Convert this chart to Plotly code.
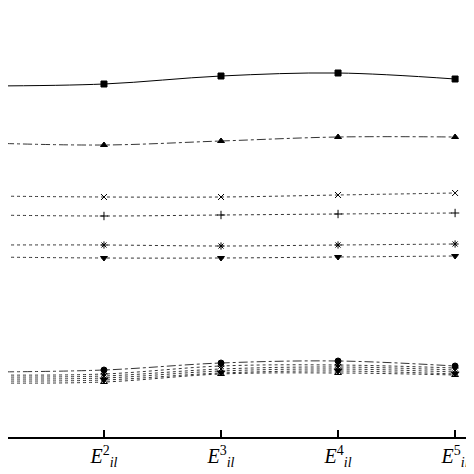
import plotly.graph_objs as go

x_pos = [1, 2, 3, 4, 5]
tick_vals = [2, 3, 4, 5]
tick_text = ["<i>E</i><sup>%d</sup><sub><i>il</i></sub>" % n for n in tick_vals]

# values (arbitrary units, larger = higher)
s_square = [359, 361, 369, 372, 366]
s_tri_up = [302, 300, 304, 308, 308]
s_x = [249, 248, 248, 250, 252]
s_plus = [230, 229, 230, 231, 232]
s_star = [200, 200, 199, 200, 201]
s_tri_down = [188, 187, 187, 188, 189]
b_circle = [73, 75, 82, 84, 79]
b_star = [70, 71, 79, 80, 77]
b_x = [68, 69, 76, 78, 75]
b_a = [66, 67, 74, 76, 73]
b_b = [64, 65, 72, 74, 71]
b_tri = [62, 63, 71, 72, 70]

series = [
    (s_square, "square", "solid", 1.0),
    (s_tri_up, "triangle-up", "dashdot", 0.8),
    (s_x, "x-thin-open", "dot", 0.8),
    (s_plus, "cross-thin-open", "dot", 0.8),
    (s_star, "asterisk-open", "dot", 0.8),
    (s_tri_down, "triangle-down", "dot", 0.8),
    (b_circle, "circle", "dashdot", 0.8),
    (b_star, "asterisk-open", "dot", 0.8),
    (b_x, "x-thin-open", "dot", 0.8),
    (b_a, "cross-thin-open", "dot", 0.8),
    (b_b, "triangle-down", "dot", 0.8),
    (b_tri, "triangle-up-open", "dot", 0.8),
]

fig = go.Figure()
for ys, sym, dash, w in series:
    fig.add_trace(go.Scatter(
        x=x_pos, y=ys, mode="lines+markers",
        line=dict(color="black", width=w, dash=dash, shape="spline"),
        marker=dict(symbol=sym, size=6, color="black",
                    line=dict(color="black", width=1)),
        showlegend=False))

fig.update_layout(
    width=474, height=474,
    margin=dict(l=0, r=0, t=0, b=45),
    plot_bgcolor="white", paper_bgcolor="white",
    font=dict(family="Liberation Serif", color="black", size=20),
    xaxis=dict(range=[1.18, 5.23], tickvals=tick_vals, ticktext=tick_text,
               ticks="inside", ticklen=7, tickwidth=1.5, tickcolor="black",
               showline=True, linecolor="black", linewidth=2,
               showgrid=False, zeroline=False, automargin=False),
    yaxis=dict(range=[8, 437], visible=False, showgrid=False),
)

fig.write_html("out.html")
